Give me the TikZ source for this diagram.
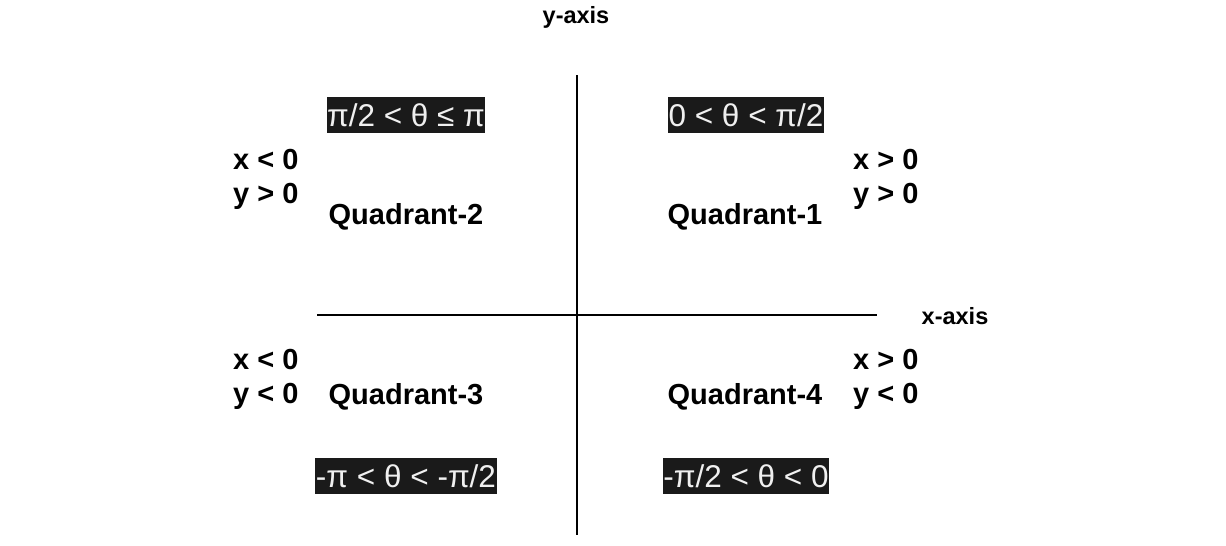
\documentclass[tikz,border=0pt]{standalone}
\usepackage{fontspec}
\setmainfont{Liberation Sans}
\definecolor{boxbg}{HTML}{1A1A1A}
\definecolor{boxfg}{HTML}{F0F0F0}
\begin{document}
\begin{tikzpicture}[x=1pt,y=-1pt,
  lbl/.style={font=\fontsize{29}{34}\selectfont\bfseries, inner sep=0pt, align=left},
  axlbl/.style={font=\fontsize{23.5}{28}\selectfont\bfseries, inner sep=0pt},
  rng/.style={fill=boxbg, text=boxfg, font=\fontsize{31.5}{36}\selectfont, inner xsep=0.5pt, inner ysep=0pt, minimum height=36pt},
  axis/.style={line width=1.6pt}]
\useasboundingbox (0,0) rectangle (1226,546);
\coordinate (vtop) at (577,75);
\coordinate (vbot) at (577,535);
\coordinate (hleft) at (317,315);
\coordinate (hright) at (877,315);
\draw[axis] (vtop) -- (vbot);
\draw[axis] (hleft) -- (hright);
\node[axlbl] (ylab) at (576,17) {y-axis};
\node[axlbl] (xlab) at (955,316) {x-axis};
\node[lbl] (q2) at (406,217) {Quadrant-2};
\node[lbl] (q1) at (745,217) {Quadrant-1};
\node[lbl] (q3) at (406,397) {Quadrant-3};
\node[lbl] (q4) at (745,397) {Quadrant-4};
\node[lbl, anchor=west] (c2a) at (233,160) {x < 0};
\node[lbl, anchor=west] (c2b) at (233,196) {y > 0};
\node[lbl, anchor=west] (c1a) at (853,160) {x > 0};
\node[lbl, anchor=west] (c1b) at (853,196) {y > 0};
\node[lbl, anchor=west] (c3a) at (233,360) {x < 0};
\node[lbl, anchor=west] (c3b) at (233,396) {y < 0};
\node[lbl, anchor=west] (c4a) at (853,360) {x > 0};
\node[lbl, anchor=west] (c4b) at (853,396) {y < 0};
\node[rng] (r2) at (406,115) {π/2 < θ ≤ π};
\node[rng] (r1) at (746,115) {0 < θ < π/2};
\node[rng] (r3) at (406,476) {-π < θ < -π/2};
\node[rng] (r4) at (746,476) {-π/2 < θ < 0};
\end{tikzpicture}
\end{document}
